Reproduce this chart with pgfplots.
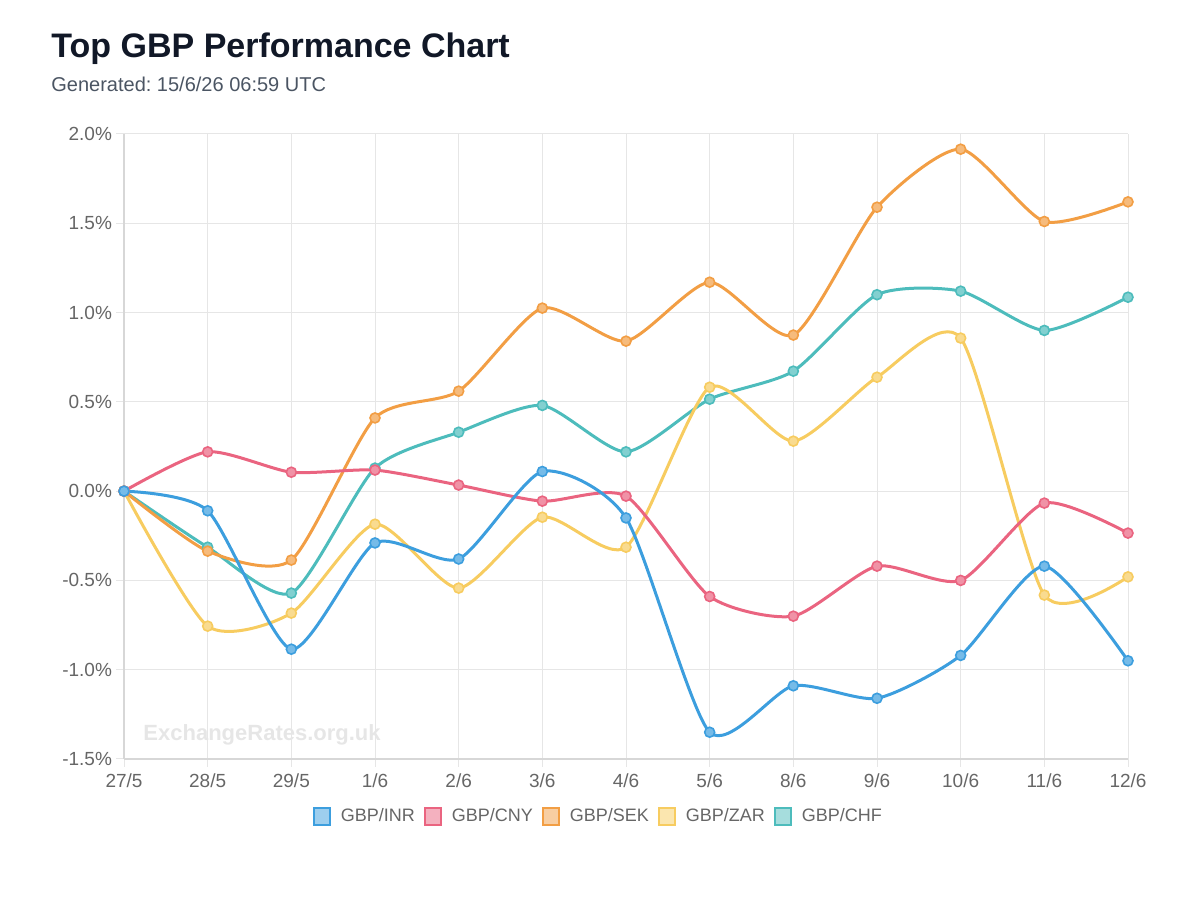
\documentclass[border=0pt]{standalone}
\usepackage{pgfplots}
\pgfplotsset{compat=1.18}
\usepackage{pgfplotstable}
\usepackage{fontspec}
\setmainfont{Liberation Sans}
\frenchspacing

\definecolor{cINR}{RGB}{60,158,222}
\definecolor{cCNY}{RGB}{234,100,128}
\definecolor{cSEK}{RGB}{242,158,68}
\definecolor{cZAR}{RGB}{247,204,96}
\definecolor{cCHF}{RGB}{77,188,188}
\definecolor{titlecol}{RGB}{17,24,39}
\definecolor{subcol}{RGB}{75,85,99}
\definecolor{tickcol}{RGB}{102,102,102}
\definecolor{gridcol}{RGB}{230,230,230}
\definecolor{wmcol}{RGB}{230,230,230}

% cumulative change in % per day
\pgfplotstableread{
x   inr    cny     sek    zar     chf
0   0.00   0.000   0.000  0.000   0.000
1  -0.11   0.220  -0.336 -0.756  -0.314
2  -0.885  0.106  -0.386 -0.683  -0.571
3  -0.29   0.118   0.410 -0.185   0.129
4  -0.38   0.034   0.560 -0.543   0.330
5   0.11  -0.056   1.025 -0.146   0.480
6  -0.15  -0.028   0.840 -0.314   0.220
7  -1.35  -0.590   1.170  0.582   0.515
8  -1.09  -0.700   0.874  0.280   0.672
9  -1.16  -0.420   1.590  0.638   1.100
10 -0.92  -0.500   1.915  0.857   1.120
11 -0.42  -0.067   1.510 -0.582   0.900
12 -0.95  -0.235   1.620 -0.480   1.086
}\rates

\pgfplotsset{
  legsq/.style={legend image code/.code={%
    \draw[draw=#1,fill=#1!50!white,line width=1pt] (0pt,-4.25pt) rectangle (8pt,4.25pt);}},
  series/.style={#1, smooth, tension=0.4, line width=1.5pt, mark=*, mark size=2.5pt,
    mark options={fill=#1!70!white, draw=#1, line width=0.8pt, solid}},
}

\begin{document}
\begin{tikzpicture}
\path[use as bounding box] (0,0) rectangle (600pt,450pt);
\node[anchor=base west, font=\fontsize{17}{20}\selectfont\bfseries, text=titlecol, inner sep=0pt]
  at (25.5pt,421pt) {Top GBP Performance Chart};
\node[anchor=base west, font=\fontsize{10}{12}\selectfont, text=subcol, inner sep=0pt]
  at (25.5pt,404pt) {Generated: 15/6/26 06:59 UTC};
\begin{axis}[
  at={(62pt,70.5pt)}, anchor=south west,
  scale only axis, width=502pt, height=312.5pt,
  xmin=0, xmax=12, ymin=-1.5, ymax=2,
  axis x line*=bottom, axis y line*=left,
  xtick={0,...,12},
  xticklabels={27/5,28/5,29/5,1/6,2/6,3/6,4/6,5/6,8/6,9/6,10/6,11/6,12/6},
  ytick={-1.5,-1,...,2},
  yticklabel={\pgfmathprintnumber[fixed,fixed zerofill,precision=1]{\tick}\%},
  /pgf/number format/assume math mode=true,
  tick label style={font=\fontsize{9.5}{11}\selectfont, text=tickcol},
  yticklabel style={xshift=1.5pt},
  grid=major, major grid style={gridcol, line width=0.5pt},
  axis line style={gridcol!85!gray, line width=0.6pt},
  tick align=outside, major tick length=4pt,
  tick style={gridcol, line width=0.5pt},
  clip=false,
  legend columns=5,
  legend style={at={(0.4735,-0.0912)}, anchor=center, draw=none, fill=none,
    font=\fontsize{9}{11}\selectfont, text=tickcol,
    /tikz/every odd column/.append style={column sep=3pt},
    /tikz/every even column/.append style={column sep=2.5pt}},
]
\node[anchor=west, font=\fontsize{11}{13}\selectfont\bfseries, text=wmcol, inner sep=0pt]
  at (rel axis cs:0.019,0.038) {ExchangeRates.org.uk};

\addlegendimage{legsq=cINR}\addlegendentry{GBP/INR}
\addlegendimage{legsq=cCNY}\addlegendentry{GBP/CNY}
\addlegendimage{legsq=cSEK}\addlegendentry{GBP/SEK}
\addlegendimage{legsq=cZAR}\addlegendentry{GBP/ZAR}
\addlegendimage{legsq=cCHF}\addlegendentry{GBP/CHF}

\addplot[series=cCHF, forget plot] table[x=x, y=chf] {\rates};
\addplot[series=cZAR, forget plot] table[x=x, y=zar] {\rates};
\addplot[series=cSEK, forget plot] table[x=x, y=sek] {\rates};
\addplot[series=cCNY, forget plot] table[x=x, y=cny] {\rates};
\addplot[series=cINR, forget plot] table[x=x, y=inr] {\rates};
\end{axis}
\end{tikzpicture}
\end{document}
